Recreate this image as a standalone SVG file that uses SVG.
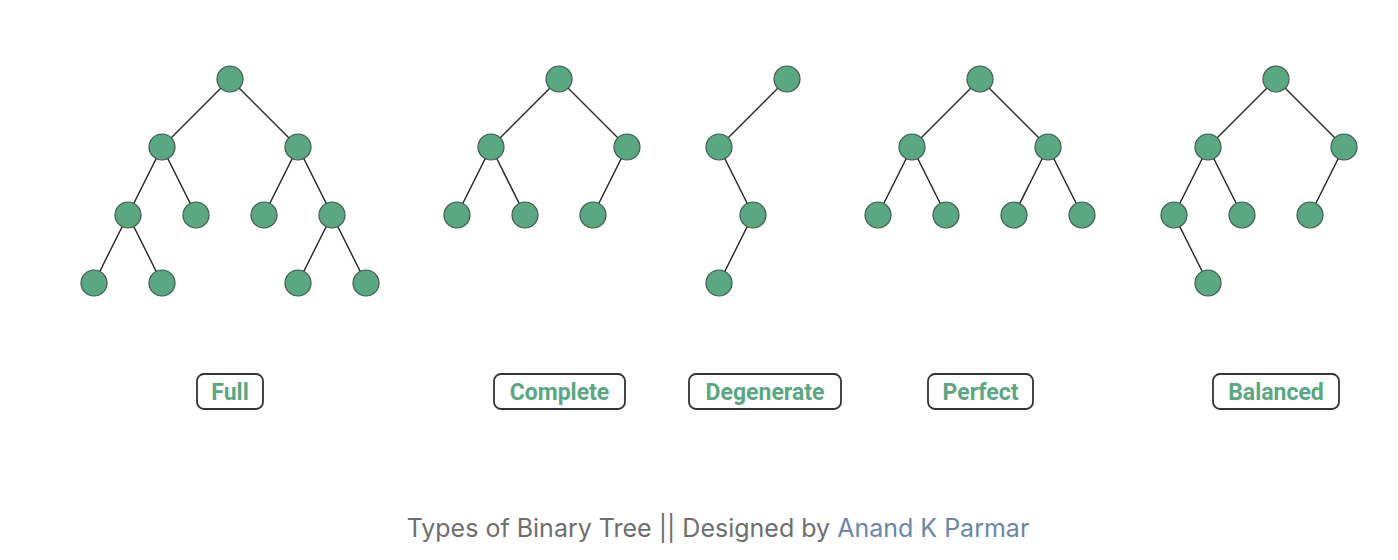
<svg xmlns="http://www.w3.org/2000/svg" width="1398" height="560" viewBox="0 0 1398 560">
<style>
.n{fill:#5aa882;stroke:#3f5a4d;stroke-width:1.2}
.e line{stroke:#2b2b2b;stroke-width:1.5}
.b{fill:#fff;stroke:#333;stroke-width:1.8}
.t{font-family:Roboto,"Liberation Sans",sans-serif;font-weight:bold;font-size:23px;fill:#5aa882;text-anchor:middle}
.c{font-family:Inter,"Liberation Sans",sans-serif;font-size:25px;fill:#6e6e6e;text-anchor:middle}
</style>
<rect width="1398" height="560" fill="#fff"/>
<g id="connectors" class="e">
<line x1="230" y1="79" x2="162" y2="147"/><line x1="230" y1="79" x2="298" y2="147"/>
<line x1="162" y1="147" x2="128" y2="215"/><line x1="162" y1="147" x2="196" y2="215"/>
<line x1="298" y1="147" x2="264" y2="215"/><line x1="298" y1="147" x2="332" y2="215"/>
<line x1="128" y1="215" x2="94" y2="283"/><line x1="128" y1="215" x2="162" y2="283"/>
<line x1="332" y1="215" x2="298" y2="283"/><line x1="332" y1="215" x2="366" y2="283"/>
<line x1="559" y1="79" x2="491" y2="147"/><line x1="559" y1="79" x2="627" y2="147"/>
<line x1="491" y1="147" x2="457" y2="215"/><line x1="491" y1="147" x2="525" y2="215"/>
<line x1="627" y1="147" x2="593" y2="215"/>
<line x1="787" y1="79" x2="719" y2="147"/><line x1="719" y1="147" x2="753" y2="215"/><line x1="753" y1="215" x2="719" y2="283"/>
<line x1="980" y1="79" x2="912" y2="147"/><line x1="980" y1="79" x2="1048" y2="147"/>
<line x1="912" y1="147" x2="878" y2="215"/><line x1="912" y1="147" x2="946" y2="215"/>
<line x1="1048" y1="147" x2="1014" y2="215"/><line x1="1048" y1="147" x2="1082" y2="215"/>
<line x1="1276" y1="79" x2="1208" y2="147"/><line x1="1276" y1="79" x2="1344" y2="147"/>
<line x1="1208" y1="147" x2="1174" y2="215"/><line x1="1208" y1="147" x2="1242" y2="215"/>
<line x1="1344" y1="147" x2="1310" y2="215"/><line x1="1174" y1="215" x2="1208" y2="283"/>
</g>
<g id="full" class="n">
<circle cx="230" cy="79" r="13"/><circle cx="162" cy="147" r="13"/><circle cx="298" cy="147" r="13"/>
<circle cx="128" cy="215" r="13"/><circle cx="196" cy="215" r="13"/><circle cx="264" cy="215" r="13"/><circle cx="332" cy="215" r="13"/>
<circle cx="94" cy="283" r="13"/><circle cx="162" cy="283" r="13"/><circle cx="298" cy="283" r="13"/><circle cx="366" cy="283" r="13"/>
</g>
<g id="complete" class="n">
<circle cx="559" cy="79" r="13"/><circle cx="491" cy="147" r="13"/><circle cx="627" cy="147" r="13"/>
<circle cx="457" cy="215" r="13"/><circle cx="525" cy="215" r="13"/><circle cx="593" cy="215" r="13"/>
</g>
<g id="degenerate" class="n">
<circle cx="787" cy="79" r="13"/><circle cx="719" cy="147" r="13"/><circle cx="753" cy="215" r="13"/><circle cx="719" cy="283" r="13"/>
</g>
<g id="perfect" class="n">
<circle cx="980" cy="79" r="13"/><circle cx="912" cy="147" r="13"/><circle cx="1048" cy="147" r="13"/>
<circle cx="878" cy="215" r="13"/><circle cx="946" cy="215" r="13"/><circle cx="1014" cy="215" r="13"/><circle cx="1082" cy="215" r="13"/>
</g>
<g id="balanced" class="n">
<circle cx="1276" cy="79" r="13"/><circle cx="1208" cy="147" r="13"/><circle cx="1344" cy="147" r="13"/>
<circle cx="1174" cy="215" r="13"/><circle cx="1242" cy="215" r="13"/><circle cx="1310" cy="215" r="13"/><circle cx="1208" cy="283" r="13"/>
</g>
<g id="labels">
<rect class="b" x="197" y="374" width="66" height="35" rx="7"/><text class="t" x="230" y="400">Full</text>
<rect class="b" x="494" y="374" width="131" height="35" rx="7"/><text class="t" x="559.5" y="400">Complete</text>
<rect class="b" x="689" y="374" width="152" height="35" rx="7"/><text class="t" x="765" y="400">Degenerate</text>
<rect class="b" x="928" y="374" width="105" height="35" rx="7"/><text class="t" x="980.5" y="400">Perfect</text>
<rect class="b" x="1213" y="374" width="126" height="35" rx="7"/><text class="t" x="1276" y="400">Balanced</text>
</g>
<text class="c" x="718" y="537">Types of Binary Tree || Designed by <tspan fill="#6a86a8">Anand K Parmar</tspan></text>
</svg>
